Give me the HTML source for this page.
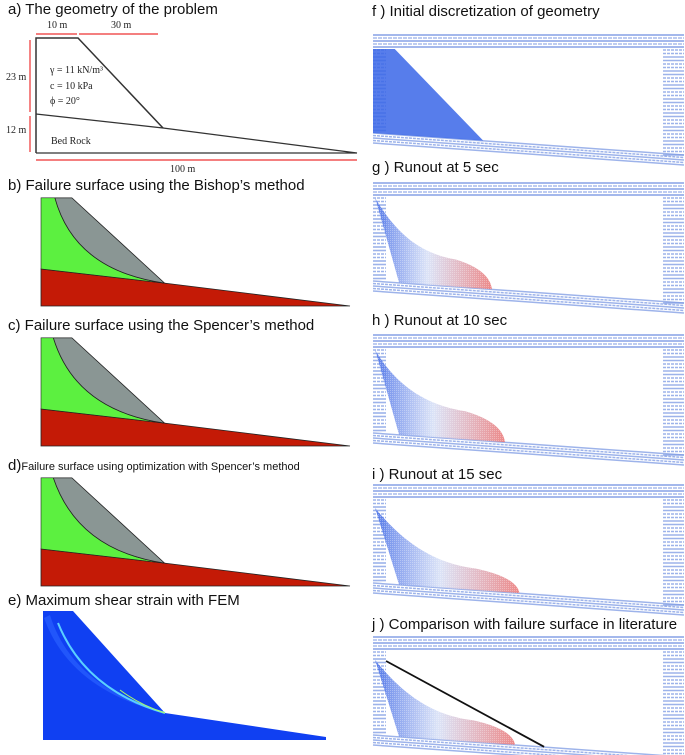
<!DOCTYPE html>
<html><head><meta charset="utf-8">
<style>
html,body{margin:0;padding:0;background:#fff;}
svg{display:block;font-family:"Liberation Sans",sans-serif;}
.t{font-size:15px;fill:#111;}
.s{font-family:"Liberation Serif",serif;font-size:10px;fill:#222;}
</style></head>
<body>
<svg id="fig" width="685" height="755" viewBox="0 0 685 755" xmlns="http://www.w3.org/2000/svg">
<defs>
<linearGradient id="runGrad" x1="0" x2="1" y1="0" y2="0">
<stop offset="0" stop-color="#3a64e6" stop-opacity="0.8"/>
<stop offset="0.45" stop-color="#cdd8f4" stop-opacity="0.7"/>
<stop offset="1" stop-color="#e86a6a" stop-opacity="0.8"/>
</linearGradient>
<pattern id="dots" width="2" height="2" patternUnits="userSpaceOnUse"><rect width="1" height="1" fill="#fff"/></pattern>
</defs>

<!-- panel a -->
<g>
<text class="t" x="8" y="14">a) The geometry of the problem</text>
<polyline points="36,153 36,38 78,38 163,128" fill="none" stroke="#333" stroke-width="1.5"/>
<polyline points="36,114 163,128 357,153 36,153" fill="none" stroke="#333" stroke-width="1.3"/>
<g stroke="#e33" stroke-width="1.2">
<line x1="36" y1="34" x2="77" y2="34"/><line x1="79" y1="34" x2="158" y2="34"/>
<line x1="30" y1="40" x2="30" y2="112"/><line x1="30" y1="116" x2="30" y2="152"/>
<line x1="36" y1="160" x2="357" y2="160"/>
</g>
<text class="s" x="47" y="28">10 m</text><text class="s" x="111" y="28">30 m</text>
<text class="s" x="6" y="80">23 m</text><text class="s" x="6" y="133">12 m</text>
<text class="s" x="170" y="172">100 m</text>
<text class="s" x="50" y="73">γ = 11 kN/m³</text>
<text class="s" x="50" y="89">c = 10 kPa</text>
<text class="s" x="50" y="104">ϕ = 20°</text>
<text class="s" x="51" y="144">Bed Rock</text>
</g>

<g id="leftPanels"></g>

<!-- panel e -->
<g>
<text class="t" x="8" y="605">e) Maximum shear strain with FEM</text>
<polygon points="43,611 73,611 165,713 326,737 326,740 43,740" fill="#1040f2"/>
<path d="M44,618 Q70,690 165,713 L150,708 Q70,680 50,615Z" fill="#2a60ff" opacity="0.7"/>
<path d="M58,623 Q85,690 165,713" fill="none" stroke="#5ad0ff" stroke-width="2"/>
<path d="M120,690 Q140,705 165,713" fill="none" stroke="#b0ff60" stroke-width="1"/>
</g>

<g id="rightPanels"></g>
</svg>

<script>
// ---- left panels (limit equilibrium) data ----
var leftTitles = ["b) Failure surface using the Bishop\u2019s method","c) Failure surface using the Spencer\u2019s method","d)"];
var leftTops = [198, 338, 478];
var surfTopX = [4.5, 4.0, 4.0];   // failure surface entry point at crest (m)
var surfSag = [0.55, 0.5, 0.45];  // curvature of the failure surface
var NS = "http://www.w3.org/2000/svg";
function mk(tag, attrs, parent){var e=document.createElementNS(NS,tag);for(var k in attrs)e.setAttribute(k,attrs[k]);parent.appendChild(e);return e;}
var LP = document.getElementById('leftPanels');
leftTops.forEach(function(T,i){
  var x0=41, sx=3.09, sy=3.09;
  function X(m){return x0+m*sx;}
  function Y(m){return T+108-m*sy;}
  var g=mk('g',{},LP);
  
  
  var t=mk('text',{x:8,y:T-8,'class':'t'},g);
  
  
  if(i==2){t.textContent='d)';var t2=mk('tspan',{'font-size':'11'},t);t2.textContent='Failure surface using optimization with Spencer\u2019s method';}
  else t.textContent=leftTitles[i];
  mk('polygon',{points:X(0)+','+Y(12)+' '+X(40)+','+Y(7.4)+' '+X(100)+','+Y(0)+' '+X(0)+','+Y(0),fill:'#c41a06',stroke:'#222','stroke-width':0.8},g);
  var px=X(surfTopX[i]), py=Y(35), tx=X(40), ty=Y(7.4);
  var cx=px+(tx-px)*(1-surfSag[i])*0.4, cy=py+(ty-py)*0.85;
  mk('path',{d:'M'+X(0)+','+Y(35)+' L'+px+','+py+' Q'+cx+','+cy+' '+tx+','+ty+' L'+X(0)+','+Y(12)+'Z',fill:'#5cf040',stroke:'#222','stroke-width':0.6},g);
  mk('path',{d:'M'+px+','+py+' L'+X(10)+','+Y(35)+' L'+tx+','+ty+' Q'+cx+','+cy+' '+px+','+py+'Z',fill:'#8a9694',stroke:'#222','stroke-width':0.8},g);
});

// ---- right panels (SPH runout) data ----
var rightTitles = ["f ) Initial discretization of geometry","g ) Runout at 5 sec","h ) Runout at 10 sec","i ) Runout at 15 sec","j ) Comparison with failure surface in literature"];
var rightTops = [35, 183, 335, 485, 637];
var runoutM = [38, 41, 45.5, 50.5, 49];   // runout tip distance (m)
var bulgeM = [0, 12, 12.5, 10, 10];       // deposit thickness near front (m)
var titleY=[16,172,325,479,629];
var RP=document.getElementById('rightPanels');
rightTops.forEach(function(T,j){
  var L=373, R=684, sx=2.9;
  function RX(m){return L+m*sx;}
  function BY(m){return T+98+m*(20/100);}
  var g=mk('g',{},RP);
  
  
  var t=mk('text',{x:372,y:titleY[j],'class':'t','font-size':j==4?13:15},g);
  
  
  t.textContent=rightTitles[j];
  var bc='#7594e2';
  for(var k=0;k<5;k++) mk('line',{x1:L,x2:R,y1:T+k*3,y2:T+k*3,stroke:bc,'stroke-width':k%2?1.2:1.8,'stroke-dasharray':k%2?'4 1':'none',opacity:0.75},g);
  for(var y=T+15;y<BY(0)-1;y+=3.5) mk('line',{x1:L,x2:L+13,y1:y,y2:y,stroke:bc,'stroke-width':1.6,'stroke-dasharray':(Math.round(y)%2)?'none':'3 1',opacity:0.7},g);
  for(var y=T+15;y<T+121;y+=3.5) mk('line',{x1:R-21,x2:R,y1:y,y2:y,stroke:bc,'stroke-width':1.6,'stroke-dasharray':(Math.round(y)%2)?'none':'3 1',opacity:0.7},g);
  for(var k=0;k<5;k++) mk('line',{x1:L,x2:R,y1:BY(0)+k*2.5,y2:T+120+k*2.5,stroke:bc,'stroke-width':1.5,'stroke-dasharray':k%2?'3 1':'none',opacity:0.7},g);
  var tip=runoutM[j], tx=RX(tip), ty=BY(tip);
  var mass;
  if(j==0){
    mass=mk('polygon',{points:L+','+(T+14)+' '+RX(7.5)+','+(T+14)+' '+tx+','+ty+' '+L+','+BY(0),fill:'#3a66e8',opacity:0.85},g);
  } else {
    var y0=T+15+(j>=3?8:0), h=bulgeM[j]*2.9;
    var d='M'+(L+2)+','+y0+
      ' C'+RX(7)+','+(T+45)+' '+RX(tip*0.35)+','+(ty-h*1.05)+' '+RX(tip*0.7)+','+(ty-h*0.85)+
      ' Q'+RX(tip*0.98)+','+(ty-h*0.55)+' '+tx+','+ty+
      ' L'+RX(9)+','+BY(9)+' L'+(L+4)+','+(y0+6)+'Z';
    mass=mk('path',{d:d,fill:'url(#runGrad)'},g);
    mk('path',{d:d,fill:'url(#dots)',opacity:0.3},g);
  }
  
  
  if(j==4){
    var ln=mk('line',{x1:RX(4.5),y1:T+24,x2:RX(59),y2:BY(59),stroke:'#111','stroke-width':1.8},g);
    
    
  }
});
</script>
</body></html>
